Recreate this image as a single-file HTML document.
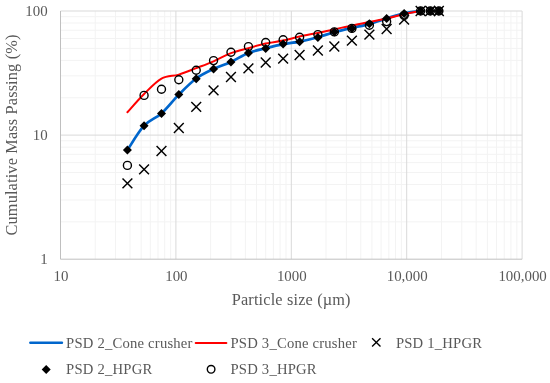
<!DOCTYPE html>
<html><head><meta charset="utf-8"><style>
html,body{margin:0;padding:0;background:#fff;width:550px;height:383px;overflow:hidden}
svg{display:block;font-family:"Liberation Serif","Times New Roman",serif}
</style></head><body>
<svg width="550" height="383" viewBox="0 0 550 383">
<g stroke="#f3f3f3" stroke-width="1"><line x1="95.24" y1="11.0" x2="95.24" y2="259.2"/><line x1="115.56" y1="11.0" x2="115.56" y2="259.2"/><line x1="129.98" y1="11.0" x2="129.98" y2="259.2"/><line x1="141.16" y1="11.0" x2="141.16" y2="259.2"/><line x1="150.30" y1="11.0" x2="150.30" y2="259.2"/><line x1="158.02" y1="11.0" x2="158.02" y2="259.2"/><line x1="164.72" y1="11.0" x2="164.72" y2="259.2"/><line x1="170.62" y1="11.0" x2="170.62" y2="259.2"/><line x1="210.64" y1="11.0" x2="210.64" y2="259.2"/><line x1="230.96" y1="11.0" x2="230.96" y2="259.2"/><line x1="245.38" y1="11.0" x2="245.38" y2="259.2"/><line x1="256.56" y1="11.0" x2="256.56" y2="259.2"/><line x1="265.70" y1="11.0" x2="265.70" y2="259.2"/><line x1="273.42" y1="11.0" x2="273.42" y2="259.2"/><line x1="280.12" y1="11.0" x2="280.12" y2="259.2"/><line x1="286.02" y1="11.0" x2="286.02" y2="259.2"/><line x1="326.04" y1="11.0" x2="326.04" y2="259.2"/><line x1="346.36" y1="11.0" x2="346.36" y2="259.2"/><line x1="360.78" y1="11.0" x2="360.78" y2="259.2"/><line x1="371.96" y1="11.0" x2="371.96" y2="259.2"/><line x1="381.10" y1="11.0" x2="381.10" y2="259.2"/><line x1="388.82" y1="11.0" x2="388.82" y2="259.2"/><line x1="395.52" y1="11.0" x2="395.52" y2="259.2"/><line x1="401.42" y1="11.0" x2="401.42" y2="259.2"/><line x1="441.44" y1="11.0" x2="441.44" y2="259.2"/><line x1="461.76" y1="11.0" x2="461.76" y2="259.2"/><line x1="476.18" y1="11.0" x2="476.18" y2="259.2"/><line x1="487.36" y1="11.0" x2="487.36" y2="259.2"/><line x1="496.50" y1="11.0" x2="496.50" y2="259.2"/><line x1="504.22" y1="11.0" x2="504.22" y2="259.2"/><line x1="510.92" y1="11.0" x2="510.92" y2="259.2"/><line x1="516.82" y1="11.0" x2="516.82" y2="259.2"/><line x1="60.5" y1="221.84" x2="522.1" y2="221.84"/><line x1="60.5" y1="199.99" x2="522.1" y2="199.99"/><line x1="60.5" y1="184.48" x2="522.1" y2="184.48"/><line x1="60.5" y1="172.46" x2="522.1" y2="172.46"/><line x1="60.5" y1="162.63" x2="522.1" y2="162.63"/><line x1="60.5" y1="154.32" x2="522.1" y2="154.32"/><line x1="60.5" y1="147.13" x2="522.1" y2="147.13"/><line x1="60.5" y1="140.78" x2="522.1" y2="140.78"/><line x1="60.5" y1="97.74" x2="522.1" y2="97.74"/><line x1="60.5" y1="75.89" x2="522.1" y2="75.89"/><line x1="60.5" y1="60.38" x2="522.1" y2="60.38"/><line x1="60.5" y1="48.36" x2="522.1" y2="48.36"/><line x1="60.5" y1="38.53" x2="522.1" y2="38.53"/><line x1="60.5" y1="30.22" x2="522.1" y2="30.22"/><line x1="60.5" y1="23.03" x2="522.1" y2="23.03"/><line x1="60.5" y1="16.68" x2="522.1" y2="16.68"/></g><g stroke="#d9d9d9" stroke-width="1"><line x1="175.90" y1="11.0" x2="175.90" y2="259.2"/><line x1="291.30" y1="11.0" x2="291.30" y2="259.2"/><line x1="406.70" y1="11.0" x2="406.70" y2="259.2"/><line x1="522.10" y1="11.0" x2="522.10" y2="259.2"/><line x1="60.5" y1="135.10" x2="522.1" y2="135.10"/><line x1="60.5" y1="11.00" x2="522.1" y2="11.00"/></g><g stroke="#bfbfbf" stroke-width="1"><line x1="60.5" y1="11.0" x2="60.5" y2="259.2"/><line x1="60.5" y1="259.2" x2="522.1" y2="259.2"/></g><g font-size="14.9" fill="#595959"><text x="47.6" y="15.70" text-anchor="end">100</text><text x="47.6" y="139.80" text-anchor="end">10</text><text x="47.6" y="263.90" text-anchor="end">1</text><text x="61.00" y="281.1" text-anchor="middle">10</text><text x="176.40" y="281.1" text-anchor="middle">100</text><text x="291.80" y="281.1" text-anchor="middle">1000</text><text x="407.20" y="281.1" text-anchor="middle">10,000</text><text x="522.60" y="281.1" text-anchor="middle">100,000</text></g><text x="291.2" y="305.2" text-anchor="middle" font-size="16.3" letter-spacing="0.16" fill="#595959">Particle size (µm)</text><text transform="translate(17,135) rotate(-90)" text-anchor="middle" font-size="16.3" letter-spacing="0.16" fill="#595959">Cumulative Mass Passing (%)</text><path d="M127.41,150.10 C130.19,146.03 138.40,131.82 144.08,125.70 C149.76,119.58 155.69,118.58 161.48,113.40 C167.27,108.22 173.03,100.42 178.82,94.60 C184.61,88.78 190.43,82.78 196.22,78.50 C202.01,74.22 207.77,71.67 213.56,68.90 C219.35,66.13 225.15,64.57 230.96,61.90 C236.77,59.23 242.63,55.18 248.42,52.90 C254.21,50.62 259.91,49.67 265.70,48.20 C271.49,46.73 277.51,45.20 283.15,44.10 C288.80,43.00 293.81,42.75 299.60,41.60 C305.38,40.45 312.10,38.77 317.89,37.20 C323.68,35.63 328.67,33.75 334.33,32.20 C340.00,30.65 346.05,29.25 351.89,27.90 C357.73,26.55 363.60,25.68 369.39,24.10 C375.18,22.52 380.84,20.22 386.63,18.40 C392.42,16.58 398.47,14.43 404.13,13.20 C409.79,11.97 417.87,11.37 420.61,11.00" fill="none" stroke="#0066CC" stroke-width="2.7" stroke-linejoin="round" stroke-linecap="round"/><path d="M127.41,112.20 C130.19,109.17 138.40,99.60 144.08,94.00 C149.76,88.40 155.69,81.83 161.48,78.60 C167.27,75.37 173.03,76.35 178.82,74.60 C184.61,72.85 190.43,70.32 196.22,68.10 C202.01,65.88 207.77,63.80 213.56,61.30 C219.35,58.80 225.15,55.30 230.96,53.10 C236.77,50.90 242.63,49.70 248.42,48.10 C254.21,46.50 259.91,44.77 265.70,43.50 C271.49,42.23 277.51,41.67 283.15,40.50 C288.80,39.33 293.81,37.77 299.60,36.50 C305.38,35.23 312.10,34.08 317.89,32.90 C323.68,31.72 328.67,30.65 334.33,29.40 C340.00,28.15 346.05,26.65 351.89,25.40 C357.73,24.15 363.60,23.03 369.39,21.90 C375.18,20.77 380.84,19.88 386.63,18.60 C392.42,17.32 398.47,15.47 404.13,14.20 C409.79,12.93 417.87,11.53 420.61,11.00" fill="none" stroke="#FF0000" stroke-width="2" stroke-linejoin="round" stroke-linecap="round"/><path d="M122.51,178.50L132.31,188.30M122.51,188.30L132.31,178.50" stroke="#000" stroke-width="1.45" fill="none"/><path d="M139.18,164.40L148.98,174.20M139.18,174.20L148.98,164.40" stroke="#000" stroke-width="1.45" fill="none"/><path d="M156.58,146.10L166.38,155.90M156.58,155.90L166.38,146.10" stroke="#000" stroke-width="1.45" fill="none"/><path d="M173.92,123.10L183.72,132.90M173.92,132.90L183.72,123.10" stroke="#000" stroke-width="1.45" fill="none"/><path d="M191.32,102.00L201.12,111.80M191.32,111.80L201.12,102.00" stroke="#000" stroke-width="1.45" fill="none"/><path d="M208.66,85.50L218.46,95.30M208.66,95.30L218.46,85.50" stroke="#000" stroke-width="1.45" fill="none"/><path d="M226.06,72.10L235.86,81.90M226.06,81.90L235.86,72.10" stroke="#000" stroke-width="1.45" fill="none"/><path d="M243.52,63.50L253.32,73.30M243.52,73.30L253.32,63.50" stroke="#000" stroke-width="1.45" fill="none"/><path d="M260.80,57.60L270.60,67.40M260.80,67.40L270.60,57.60" stroke="#000" stroke-width="1.45" fill="none"/><path d="M278.25,53.70L288.05,63.50M278.25,63.50L288.05,53.70" stroke="#000" stroke-width="1.45" fill="none"/><path d="M294.70,50.10L304.50,59.90M294.70,59.90L304.50,50.10" stroke="#000" stroke-width="1.45" fill="none"/><path d="M312.99,45.60L322.79,55.40M312.99,55.40L322.79,45.60" stroke="#000" stroke-width="1.45" fill="none"/><path d="M329.43,41.60L339.23,51.40M329.43,51.40L339.23,41.60" stroke="#000" stroke-width="1.45" fill="none"/><path d="M346.99,35.70L356.79,45.50M346.99,45.50L356.79,35.70" stroke="#000" stroke-width="1.45" fill="none"/><path d="M364.49,29.70L374.29,39.50M364.49,39.50L374.29,29.70" stroke="#000" stroke-width="1.45" fill="none"/><path d="M381.73,24.10L391.53,33.90M381.73,33.90L391.53,24.10" stroke="#000" stroke-width="1.45" fill="none"/><path d="M399.23,14.70L409.03,24.50M399.23,24.50L409.03,14.70" stroke="#000" stroke-width="1.45" fill="none"/><path d="M415.71,6.10L425.51,15.90M415.71,15.90L425.51,6.10" stroke="#000" stroke-width="1.45" fill="none"/><path d="M425.36,6.10L435.16,15.90M425.36,15.90L435.16,6.10" stroke="#000" stroke-width="1.45" fill="none"/><path d="M433.97,6.10L443.77,15.90M433.97,15.90L443.77,6.10" stroke="#000" stroke-width="1.45" fill="none"/><path d="M127.41,145.60L131.91,150.10L127.41,154.60L122.91,150.10Z" fill="#000"/><path d="M144.08,121.20L148.58,125.70L144.08,130.20L139.58,125.70Z" fill="#000"/><path d="M161.48,108.90L165.98,113.40L161.48,117.90L156.98,113.40Z" fill="#000"/><path d="M178.82,90.10L183.32,94.60L178.82,99.10L174.32,94.60Z" fill="#000"/><path d="M196.22,74.30L200.72,78.80L196.22,83.30L191.72,78.80Z" fill="#000"/><path d="M213.56,64.50L218.06,69.00L213.56,73.50L209.06,69.00Z" fill="#000"/><path d="M230.96,57.50L235.46,62.00L230.96,66.50L226.46,62.00Z" fill="#000"/><path d="M248.42,48.60L252.92,53.10L248.42,57.60L243.92,53.10Z" fill="#000"/><path d="M265.70,44.00L270.20,48.50L265.70,53.00L261.20,48.50Z" fill="#000"/><path d="M283.15,39.60L287.65,44.10L283.15,48.60L278.65,44.10Z" fill="#000"/><path d="M299.60,37.30L304.10,41.80L299.60,46.30L295.10,41.80Z" fill="#000"/><path d="M317.89,33.10L322.39,37.60L317.89,42.10L313.39,37.60Z" fill="#000"/><path d="M334.33,27.40L338.83,31.90L334.33,36.40L329.83,31.90Z" fill="#000"/><path d="M351.89,23.90L356.39,28.40L351.89,32.90L347.39,28.40Z" fill="#000"/><path d="M369.39,19.30L373.89,23.80L369.39,28.30L364.89,23.80Z" fill="#000"/><path d="M386.63,13.90L391.13,18.40L386.63,22.90L382.13,18.40Z" fill="#000"/><path d="M404.13,9.00L408.63,13.50L404.13,18.00L399.63,13.50Z" fill="#000"/><path d="M420.61,6.50L425.11,11.00L420.61,15.50L416.11,11.00Z" fill="#000"/><path d="M430.26,6.50L434.76,11.00L430.26,15.50L425.76,11.00Z" fill="#000"/><path d="M438.87,6.50L443.37,11.00L438.87,15.50L434.37,11.00Z" fill="#000"/><circle cx="127.41" cy="165.40" r="4.0" fill="none" stroke="#000" stroke-width="1.4"/><circle cx="144.08" cy="95.40" r="4.0" fill="none" stroke="#000" stroke-width="1.4"/><circle cx="161.48" cy="89.30" r="4.0" fill="none" stroke="#000" stroke-width="1.4"/><circle cx="178.82" cy="79.80" r="4.0" fill="none" stroke="#000" stroke-width="1.4"/><circle cx="196.22" cy="70.20" r="4.0" fill="none" stroke="#000" stroke-width="1.4"/><circle cx="213.56" cy="60.60" r="4.0" fill="none" stroke="#000" stroke-width="1.4"/><circle cx="230.96" cy="52.20" r="4.0" fill="none" stroke="#000" stroke-width="1.4"/><circle cx="248.42" cy="46.60" r="4.0" fill="none" stroke="#000" stroke-width="1.4"/><circle cx="265.70" cy="42.50" r="4.0" fill="none" stroke="#000" stroke-width="1.4"/><circle cx="283.15" cy="39.80" r="4.0" fill="none" stroke="#000" stroke-width="1.4"/><circle cx="299.60" cy="37.30" r="4.0" fill="none" stroke="#000" stroke-width="1.4"/><circle cx="317.89" cy="34.60" r="4.0" fill="none" stroke="#000" stroke-width="1.4"/><circle cx="334.33" cy="31.90" r="4.0" fill="none" stroke="#000" stroke-width="1.4"/><circle cx="351.89" cy="28.40" r="4.0" fill="none" stroke="#000" stroke-width="1.4"/><circle cx="369.39" cy="25.30" r="4.0" fill="none" stroke="#000" stroke-width="1.4"/><circle cx="386.63" cy="21.60" r="4.0" fill="none" stroke="#000" stroke-width="1.4"/><circle cx="404.13" cy="15.50" r="4.0" fill="none" stroke="#000" stroke-width="1.4"/><circle cx="420.61" cy="11.00" r="4.0" fill="none" stroke="#000" stroke-width="1.4"/><circle cx="430.26" cy="11.00" r="4.0" fill="none" stroke="#000" stroke-width="1.4"/><circle cx="438.87" cy="11.00" r="4.0" fill="none" stroke="#000" stroke-width="1.4"/><line x1="30.4" y1="342.8" x2="61.9" y2="342.8" stroke="#0066CC" stroke-width="2.6" stroke-linecap="round"/><line x1="195.7" y1="343" x2="226.4" y2="343" stroke="#FF0000" stroke-width="2" stroke-linecap="round"/><path d="M372.10,338.20L380.50,346.60M372.10,346.60L380.50,338.20" stroke="#000" stroke-width="1.35" fill="none"/><path d="M46.20,365.10L50.70,369.60L46.20,374.10L41.70,369.60Z" fill="#000"/><circle cx="211.10" cy="369.30" r="3.8" fill="none" stroke="#000" stroke-width="1.4"/><g font-size="14.67" letter-spacing="0.2" fill="#595959"><text x="66.1" y="347.6">PSD 2_Cone crusher</text><text x="230.5" y="347.6">PSD 3_Cone crusher</text><text x="395.90000000000003" y="347.6">PSD 1_HPGR</text><text x="66.1" y="373.7">PSD 2_HPGR</text><text x="230.5" y="373.7">PSD 3_HPGR</text></g>
</svg>
</body></html>
